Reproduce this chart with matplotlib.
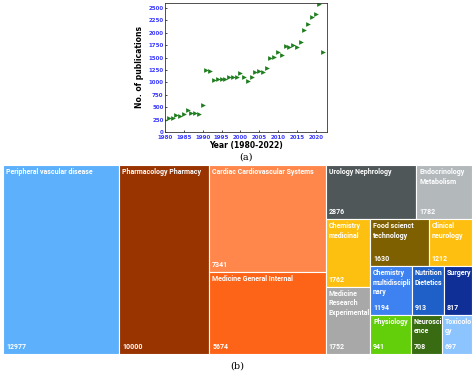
import matplotlib
matplotlib.use("Agg")
import matplotlib.pyplot as plt
from matplotlib.patches import Rectangle

# ---------------- data ----------------
years = list(range(1980, 2023))
publications = [250, 280, 275, 350, 320, 360, 440, 380, 380, 370, 535,
                1240, 1225, 1040, 1070, 1060, 1060, 1115, 1110, 1105, 1195,
                1105, 1035, 1100, 1205, 1230, 1200, 1295, 1500, 1520, 1620,
                1550, 1740, 1720, 1745, 1720, 1805, 2060, 2180, 2320, 2375,
                2575, 1605]
y_ticks = [0, 250, 500, 750, 1000, 1250, 1500, 1750, 2000, 2250, 2500]
x_ticks = [1980, 1985, 1990, 1995, 2000, 2005, 2010, 2015, 2020]

categories = ["Peripheral vascular disease", "Pharmacology Pharmacy",
              "Cardiac Cardiovascular Systems", "Medicine General Internal",
              "Urology Nephrology", "Endocrinology\nMetabolism",
              "Chemistry\nmedicinal", "Medicine\nResearch\nExperimental",
              "Food scienct\ntechnology", "Clinical\nneurology",
              "Chemistry\nmultidiscipli\nnary", "Nutrition\nDietetics", "Surgery",
              "Physiology", "Neurosci\nence", "Toxicolo\ngy"]
counts = [12977, 10000, 7341, 5674, 2876, 1782, 1762, 1752, 1630, 1212,
          1194, 913, 817, 941, 708, 697]
colors = ["#5cb0fc", "#993300", "#ff874c", "#fd6418", "#4f5759", "#b3b8bb",
          "#fdc010", "#a8a8a8", "#7f6000", "#ffbf10",
          "#3d82f0", "#1f60c8", "#0f2f96", "#62cf0a", "#386b12", "#8cc4ff"]

# nested layout: ('h' = side by side, 'v' = stacked), leaves are indices
structure = ('h', [0, 1, ('v', [2, 3]),
                   ('v', [('h', [4, 5]),
                          ('h', [('v', [6, 7]),
                                 ('v', [('h', [8, 9]),
                                        ('v', [('h', [10, 11, 12]),
                                               ('h', [13, 14, 15])])])])])])


def total(node):
    if isinstance(node, int):
        return counts[node]
    return sum(total(c) for c in node[1])


def layout(node, x, y, w, h, out):
    if isinstance(node, int):
        out[node] = (x, y, w, h)
        return
    d, kids = node
    s = total(node)
    if d == 'h':
        cx = x
        for k in kids:
            kw = w * total(k) / s
            layout(k, cx, y, kw, h, out)
            cx += kw
    else:
        cy = y + h
        for k in kids:
            kh = h * total(k) / s
            cy -= kh
            layout(k, x, cy, w, kh, out)


W, H = 474, 372
fig = plt.figure(figsize=(W / 100, H / 100), dpi=100)

# ---------------- (a) scatter ----------------
ax = fig.add_axes([165 / W, 1 - 132 / H, 162 / W, 129 / H])
ax.plot(years, publications, linestyle='none', marker='>', color='#1e7d1e',
        markersize=3.4, markeredgewidth=0)
ax.set_xlim(1980, 2023)
ax.set_ylim(0, 2600)
ax.set_xticks(x_ticks)
ax.set_yticks(y_ticks)
ax.tick_params(axis='both', labelsize=4.0, labelcolor='#3a3aff', length=1.5,
               width=0.5, pad=1, direction='in')
ax.tick_params(axis='x', pad=2)
for lab in ax.get_xticklabels() + ax.get_yticklabels():
    lab.set_fontweight('bold')
for sp in ax.spines.values():
    sp.set_linewidth(0.6)
    sp.set_color('#333333')
ax.set_ylabel("No. of publications", fontsize=5.5, fontweight='bold', labelpad=3)
ax.set_xlabel("Year (1980-2022)", fontsize=5.5, fontweight='bold', labelpad=1.2)
fig.text(246 / W, 1 - 157 / H, "(a)", ha='center', va='center', fontsize=7,
         family='DejaVu Serif')

# ---------------- (b) treemap ----------------
tx = fig.add_axes([3 / W, 1 - 354 / H, 469 / W, 189 / H])
tx.set_xlim(0, 1)
tx.set_ylim(0, 1)
tx.axis('off')
rects = {}
layout(structure, 0, 0, 1, 1, rects)
px_w, px_h = 469.0, 189.0
for i, (x, y, w, h) in rects.items():
    tx.add_patch(Rectangle((x, y), w, h, facecolor=colors[i], edgecolor='white',
                           linewidth=0.8))
    tx.text(x + 3 / px_w, y + h - 3 / px_h, categories[i], ha='left', va='top',
            color='white', fontsize=5.0, fontweight='bold', family='Roboto',
            linespacing=1.25)
    tx.text(x + 3 / px_w, y + 3 / px_h, str(counts[i]), ha='left', va='bottom',
            color='white', fontsize=5.0, fontweight='bold', family='Roboto')
fig.text(237 / W, 1 - 366 / H, "(b)", ha='center', va='center', fontsize=7,
         family='DejaVu Serif')

fig.savefig("out.png", dpi=100)
